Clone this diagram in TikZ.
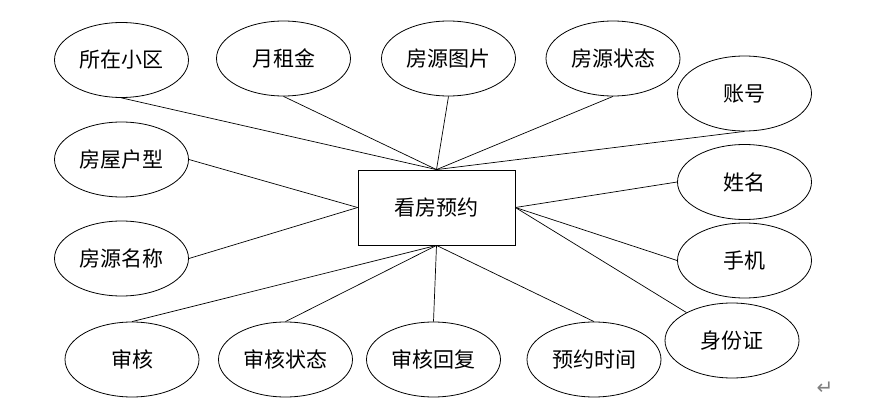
\documentclass[tikz,border=0pt]{standalone}
\usepackage{fontspec}
\usetikzlibrary{shapes.geometric}
\newfontfamily\cjk{Noto Sans CJK SC}
\newfontfamily\symfont{DejaVu Sans}
\begin{document}
\begin{tikzpicture}[x=1pt,y=-1pt,
  attr/.style={draw,ellipse,line width=0.8pt,minimum width=134pt,minimum height=75pt,inner sep=0pt,font=\cjk\fontsize{21}{24}\selectfont},
  ent/.style={draw,rectangle,line width=0.8pt,minimum width=157pt,minimum height=75pt,inner sep=0pt,font=\cjk\fontsize{21}{24}\selectfont},
  link/.style={line width=0.7pt}]
\useasboundingbox (0,0) rectangle (878,414);
\node[ent] (c) at (436.5,207.5) {看房预约};
\node[attr] (a1) at (121.5,60) {所在小区};
\node[attr] (a2) at (283.5,58.5) {月租金};
\node[attr] (a3) at (448.5,58.5) {房源图片};
\node[attr] (a4) at (613,58.5) {房源状态};
\node[attr] (a5) at (744.5,93.5) {账号};
\node[attr] (a6) at (121.5,159.5) {房屋户型};
\node[attr] (a7) at (121.5,258.5) {房源名称};
\node[attr] (a8) at (744.5,182) {姓名};
\node[attr] (a9) at (744.5,260.5) {手机};
\node[attr] (a10) at (732,340.5) {身份证};
\node[attr] (b1) at (132,359.5) {审核};
\node[attr] (b2) at (285.5,359.5) {审核状态};
\node[attr] (b3) at (433.5,359.5) {审核回复};
\node[attr] (b4) at (594,359.5) {预约时间};
\node[text=gray,font=\symfont\fontsize{20}{22}\selectfont] (pm) at (825,388) {↵};
\foreach \n in {a1,a2,a3,a4,a5} \draw[link] (c.north) -- (\n.south);
\foreach \n in {a6,a7} \draw[link] (c.west) -- (\n.east);
\foreach \n in {a8,a9} \draw[link] (c.east) -- (\n.west);
\draw[link] (c.east) -- (a10);
\foreach \n in {b1,b2,b3,b4} \draw[link] (c.south) -- (\n.north);
\end{tikzpicture}
\end{document}
